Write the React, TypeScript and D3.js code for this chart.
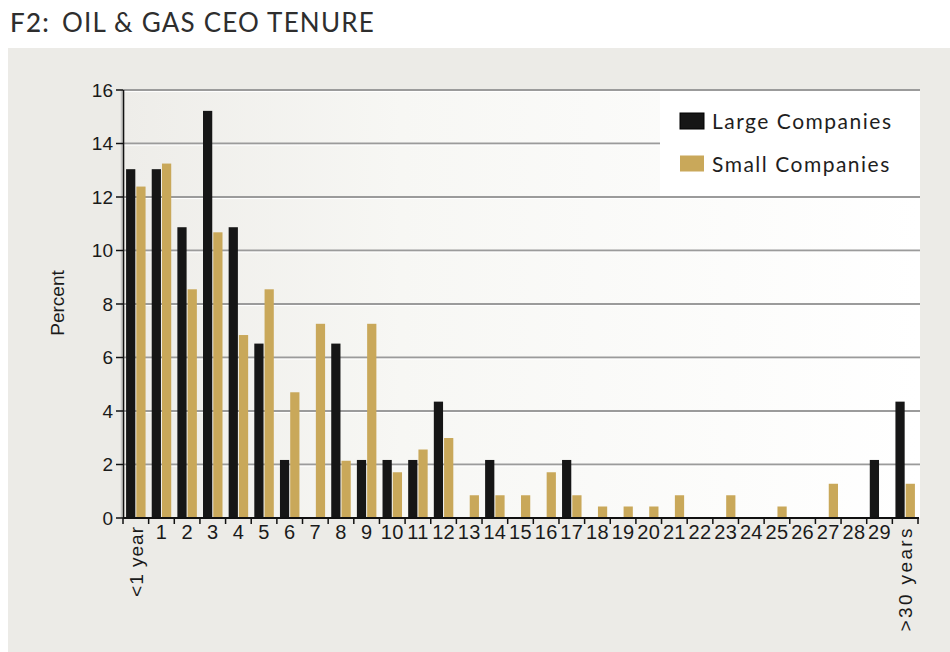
import * as d3 from 'd3';

const CATEGORIES = ['<1 year', '1', '2', '3', '4', '5', '6', '7', '8', '9', '10', '11', '12', '13', '14', '15',
  '16', '17', '18', '19', '20', '21', '22', '23', '24', '25', '26', '27', '28', '29', '>30 years'];
const LARGE = [13.04, 13.04, 10.87, 15.22, 10.87, 6.52, 2.17, 0, 6.52, 2.17, 2.17, 2.17, 4.35, 0, 2.17, 0,
  0, 2.17, 0, 0, 0, 0, 0, 0, 0, 0, 0, 0, 0, 2.17, 4.35];
const SMALL = [12.39, 13.25, 8.55, 10.68, 6.84, 8.55, 4.70, 7.26, 2.14, 7.26, 1.71, 2.56, 2.99, 0.85, 0.85, 0.85,
  1.71, 0.85, 0.43, 0.43, 0.43, 0.85, 0, 0.85, 0, 0.43, 0, 1.28, 0, 0, 1.28];
const Y_TICKS = [0, 2, 4, 6, 8, 10, 12, 14, 16];
const SERIES = [
  { key: 'large', name: 'Large Companies', color: '#161616', values: LARGE },
  { key: 'small', name: 'Small Companies', color: '#c9a85a', values: SMALL },
];

const W = 950, H = 652;
const PL = 123, PR = 918, PT = 90, PB = 518;
const AXIS_FONT = '"Liberation Sans", Arial, sans-serif';
const ROUND_FONT = 'Lato, "Open Sans", sans-serif';

export default function App() {
  const x0 = d3.scaleBand<string>().domain(CATEGORIES).range([PL, PR]).padding(0);
  const x1 = d3.scaleBand<string>().domain(SERIES.map(s => s.key)).range([0, x0.bandwidth()])
    .paddingInner(0.1).paddingOuter(0.3);
  const y = d3.scaleLinear().domain([0, 16]).range([PB, PT]);

  const bounds = [...CATEGORIES.map(c => x0(c)!), PR];

  return (
    <svg width={W} height={H} viewBox={`0 0 ${W} ${H}`}
      style={{ position: 'absolute', left: 0, top: 0, display: 'block', background: '#fff' }}>
      <defs>
        <linearGradient id="plotBg" x1="0" x2="1" y1="0" y2="0">
          <stop offset="0" stopColor="#eeede9" />
          <stop offset="0.35" stopColor="#f7f7f4" />
          <stop offset="1" stopColor="#ffffff" />
        </linearGradient>
      </defs>

      {/* title */}
      <text x={10} y={32} fontFamily={ROUND_FONT} fontSize={26} fill="#2e2e2e" letterSpacing={1.2}>
        <tspan fontWeight={500}>F2:</tspan>
        <tspan dx={12} fontWeight={400}>OIL &amp; GAS CEO TENURE</tspan>
      </text>

      {/* panel */}
      <rect x={8} y={48} width={W - 8} height={H - 48} fill="#ecebe7" />
      <rect x={PL} y={PT} width={PR + 2 - PL} height={PB - PT} fill="url(#plotBg)" />

      {/* gridlines */}
      {Y_TICKS.filter(t => t > 0).map(t => {
        const end = t === 14 ? 660 : PR + 2;
        return (
          <g key={t}>
            <line x1={PL} x2={end} y1={y(t)} y2={y(t)} stroke="#9b9b9b" strokeWidth={2} />
            <line x1={PL} x2={end} y1={y(t) + 1.6} y2={y(t) + 1.6} stroke="#ffffff" strokeWidth={1} />
          </g>
        );
      })}

      {/* legend */}
      <rect x={660} y={y(16) + 2} width={PR + 2 - 660} height={y(12) - y(16) - 3} fill="#ffffff" />
      {SERIES.map((s, i) => (
        <g key={s.key} transform={`translate(680, ${113 + i * 42.5})`}>
          <rect x={0} y={0} width={24} height={16} fill={s.color} stroke={i === 0 ? '#000' : 'none'} strokeWidth={1} />
          <text x={32} y={16} fontFamily={ROUND_FONT} fontSize={21} fill="#1e1e1e" letterSpacing={1.5}>{s.name}</text>
        </g>
      ))}

      {/* bars */}
      {CATEGORIES.map((c, i) => (
        <g key={c} transform={`translate(${x0(c)}, 0)`}>
          {SERIES.map(s => s.values[i] > 0 ? (
            <rect key={s.key} x={x1(s.key)} y={y(s.values[i])} width={x1.bandwidth()}
              height={y(0) - y(s.values[i])} fill={s.color} />
          ) : null)}
        </g>
      ))}

      {/* y axis */}
      <line x1={PL - 1.5} x2={PL - 1.5} y1={PT} y2={PB} stroke="#c8c8c6" strokeWidth={1.5} />
      <line x1={PL + 0.5} x2={PL + 0.5} y1={PT} y2={PB} stroke="#111" strokeWidth={1.6} />
      {Y_TICKS.map(t => (
        <g key={t}>
          <line x1={PL - 7} x2={PL} y1={y(t)} y2={y(t)} stroke="#111" strokeWidth={1.5} />
          <text x={PL - 10} y={y(t)} dy="0.36em" textAnchor="end" fontFamily={AXIS_FONT} fontSize={19} fill="#1a1a1a">{t}</text>
        </g>
      ))}
      <text transform={`translate(57, ${303}) rotate(-90)`} textAnchor="middle" dy="0.36em"
        fontFamily={AXIS_FONT} fontSize={19} fill="#1a1a1a">Percent</text>

      {/* x axis */}
      <line x1={PL} x2={PR + 1} y1={PB} y2={PB} stroke="#111" strokeWidth={2} />
      {bounds.map((b, i) => (
        <line key={i} x1={b} x2={b} y1={PB} y2={PB + 6} stroke="#111" strokeWidth={1.5} />
      ))}
      {CATEGORIES.map((c, i) => {
        const cx = x0(c)! + x0.bandwidth() / 2;
        const rotated = i === 0 || i === CATEGORIES.length - 1;
        return rotated ? (
          <text key={c} transform={`translate(${cx}, 526) rotate(-90)`} textAnchor="end" dy="0.36em"
            fontFamily={AXIS_FONT} fontSize={19} letterSpacing={i === 0 ? 1 : 2.4} fill="#1a1a1a">{c}</text>
        ) : (
          <text key={c} x={cx} y={539} textAnchor="middle" fontFamily={AXIS_FONT} fontSize={20}
            fill="#1a1a1a" letterSpacing={0.3}>{c}</text>
        );
      })}
    </svg>
  );
}
